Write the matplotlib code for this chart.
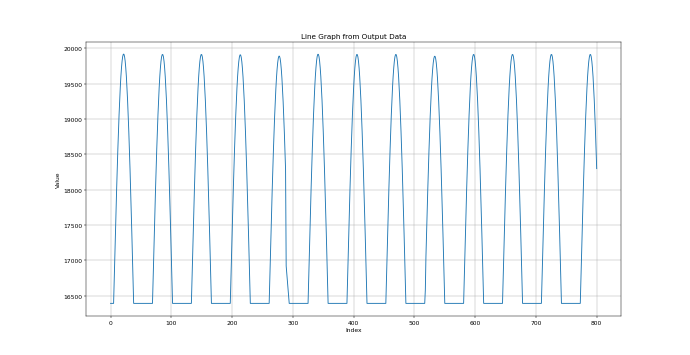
import matplotlib

matplotlib.use('Agg')
import matplotlib.pyplot as plt
import numpy as np

# 数据
n_points = 801
baseline = 16390

# 每个脉冲起点的索引和峰值
pulse_starts = [5, 69, 133, 197, 261, 325, 389, 453, 517, 581, 645, 709, 773]
pulse_peaks = [19920, 19915, 19915, 19910, 19892, 19918, 19915, 19915,
               19890, 19915, 19915, 19915, 19915]

# 单个脉冲的形状（相对高度，0 = 基线，1 = 峰值），共 34 个采样点
pulse_shape = [0.000, 0.095, 0.189, 0.282, 0.372, 0.458, 0.541, 0.618,
               0.690, 0.756, 0.815, 0.866, 0.910, 0.945, 0.972, 0.990,
               0.999, 0.999, 0.990, 0.972, 0.945, 0.910, 0.866, 0.815,
               0.756, 0.690, 0.618, 0.541, 0.458, 0.372, 0.282, 0.189,
               0.095, 0.000]

# 个别异常点
glitch_index = [289, 290, 291, 292, 293, 518]
glitch_value = [16920, 16810, 16700, 16600, 16500, 16580]

values = np.full(n_points, float(baseline))
for start, peak in zip(pulse_starts, pulse_peaks):
    for k, frac in enumerate(pulse_shape):
        i = start + k
        if i < n_points:
            values[i] = baseline + frac * (peak - baseline)
for i, v in zip(glitch_index, glitch_value):
    values[i] = v

index = np.arange(n_points)

fig = plt.figure(figsize=(16, 8.255), dpi=43.125)
plt.plot(index, values)
plt.title("Line Graph from Output Data")
plt.xlabel("Index")
plt.ylabel("Value")
plt.grid(True)

plt.savefig("out.png")
plt.close()
